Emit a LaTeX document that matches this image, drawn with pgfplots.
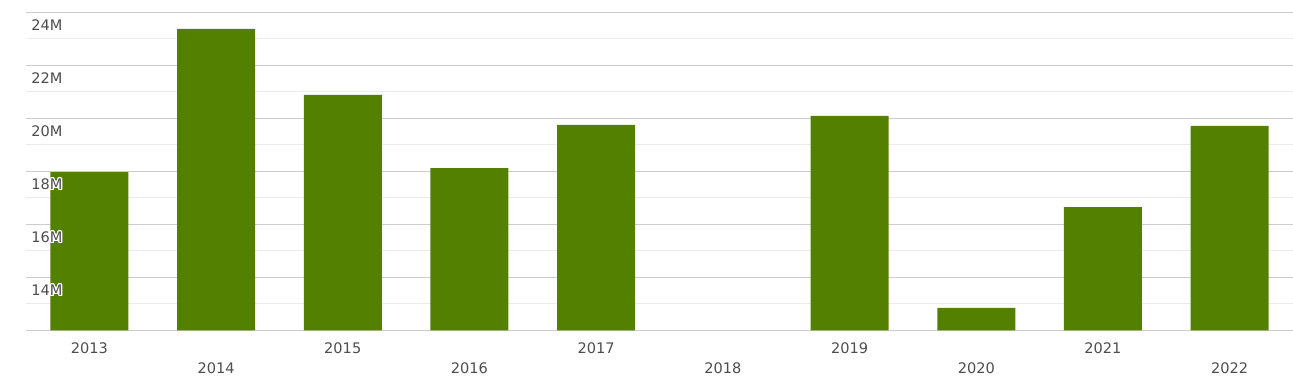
\documentclass[border=0pt]{standalone}
\usepackage{pgfplots}
\pgfplotsset{compat=1.18}
\usepackage{fontspec}
\setmainfont{DejaVu Sans}
\usepackage[copies]{contour}
\contourlength{0.6pt}
\contournumber{16}
\definecolor{barc}{HTML}{548000}
\definecolor{txt}{HTML}{4D4D4D}
\definecolor{majg}{HTML}{CCCCCC}
\definecolor{ming}{HTML}{EBEBEB}
\begin{document}
\fontsize{7.3}{8.5}\selectfont
\begin{tikzpicture}
\begin{axis}[
  set layers,
  at={(13.0bp,26.75bp)}, anchor=south west,
  scale only axis, width=633.5bp, height=159bp,
  xmin=-0.5, xmax=9.5, ymin=12, ymax=24,
  axis line style={draw=none},
  major tick length=0pt, minor tick length=0pt,
  ytick={12,14,...,24}, minor ytick={13,15,...,23},
  yticklabels={},
  ymajorgrids, yminorgrids,
  major grid style={majg, line width=0.5bp},
  minor grid style={ming, line width=0.5bp},
  xtick={0,2,4,6,8},
  xticklabels={2013,2015,2017,2019,2021},
  extra x ticks={1,3,5,7,9},
  extra x tick labels={2014,2016,2018,2020,2022},
  extra x tick style={grid=none, xticklabel style={yshift=-10bp}},
  xticklabel style={anchor=center, yshift=-9bp, text=txt, font=\fontsize{7.3}{8.5}\selectfont},
  /pgf/number format/assume math mode=true,
]
\addplot[ybar, bar width=39bp, bar shift=0pt, fill=barc, draw=none] coordinates {
  (0,17.98) (1,23.38) (2,20.89) (3,18.13) (4,19.76)
  (6,20.10) (7,12.85) (8,16.66) (9,19.72)
};
\addplot[draw=none, mark=none, on layer=axis foreground,
  point meta=explicit symbolic,
  nodes near coords={\contour{white}{\textcolor{txt}{\pgfplotspointmeta}}},
  every node near coord/.append style={anchor=west, inner sep=0pt, xshift=2.5bp, yshift=-6.75bp, font=\fontsize{7.3}{8.5}\selectfont},
] table[meta=lab] {
x y lab
-0.5 14 14M
-0.5 16 16M
-0.5 18 18M
-0.5 20 20M
-0.5 22 22M
-0.5 24 24M
};
\end{axis}
\pgfresetboundingbox
\path[use as bounding box] (0,0) rectangle (646.5bp,192bp);
\end{tikzpicture}
\end{document}
